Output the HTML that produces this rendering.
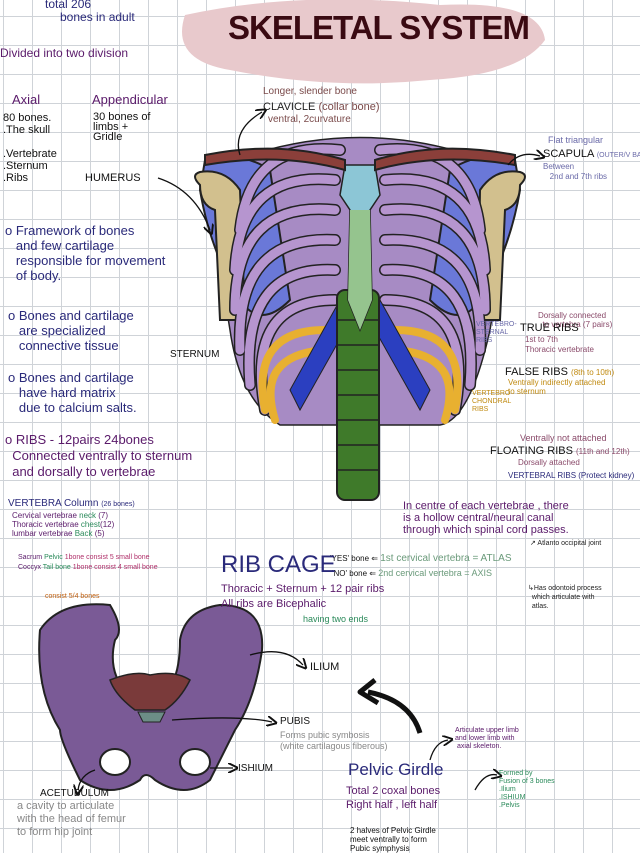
<!DOCTYPE html><html><head><style>
body{margin:0;width:640px;height:853px;overflow:hidden;position:relative;background:#fff;
background-image:linear-gradient(#cfd3d8 1px,transparent 1px),linear-gradient(90deg,#cfd3d8 1px,transparent 1px);
background-size:29px 29px;background-position:3px 16px;font-family:"Liberation Sans",sans-serif}
.t{position:absolute;white-space:nowrap;line-height:1.1}
svg{position:absolute;left:0;top:0}
</style></head><body>
<svg width="640" height="853" viewBox="0 0 640 853">
<defs><marker id="a" markerWidth="8" markerHeight="8" refX="4" refY="4" orient="auto"><path d="M0 0 L8 4 L0 8" fill="none" stroke="#111" stroke-width="1.5"/></marker></defs>
<path d="M185 15 Q300 -10 440 5 Q540 0 545 40 Q520 75 430 80 Q330 90 230 70 Q170 60 185 15Z" fill="#e8c9cc"/>
<path d="M250 155 Q360 120 470 155 Q505 250 490 330 Q470 420 440 425 L280 425 Q240 400 230 330 Q215 250 250 155Z" fill="#a78bc4" stroke="#222" stroke-width="1.5"/>
<path d="M205 160 Q240 150 270 170 L290 300 Q260 330 240 300 Q210 250 200 190Z" fill="#6a78d8" stroke="#222" stroke-width="2"/>
<path d="M515 160 Q480 150 450 170 L430 300 Q460 330 480 300 Q510 250 520 190Z" fill="#6a78d8" stroke="#222" stroke-width="2"/>
<path d="M200 185 Q190 175 200 172 Q225 168 240 190 L245 320 L220 320 L215 210 Q200 205 200 185Z" fill="#d2c08e" stroke="#222" stroke-width="2"/>
<path d="M520 185 Q530 175 520 172 Q495 168 480 190 L478 320 L500 320 L505 210 Q520 205 520 185Z" fill="#d2c08e" stroke="#222" stroke-width="2"/>
<g fill="none" stroke="#222" stroke-width="12" stroke-linecap="round">
<path d="M340 150 Q250 140 240 230"/><path d="M380 150 Q470 140 480 230"/>
<path d="M335 180 Q240 170 235 270"/><path d="M385 180 Q480 170 485 270"/>
<path d="M335 210 Q235 200 235 310"/><path d="M385 210 Q485 200 485 310"/>
<path d="M335 240 Q235 235 240 350"/><path d="M385 240 Q485 235 480 350"/>
<path d="M335 270 Q240 265 250 385"/><path d="M385 270 Q480 265 470 385"/>
<path d="M335 300 Q245 300 265 410"/><path d="M385 300 Q475 300 455 410"/>
</g>
<g fill="none" stroke="#b695cf" stroke-width="9" stroke-linecap="round">
<path d="M340 150 Q250 140 240 230"/><path d="M380 150 Q470 140 480 230"/>
<path d="M335 180 Q240 170 235 270"/><path d="M385 180 Q480 170 485 270"/>
<path d="M335 210 Q235 200 235 310"/><path d="M385 210 Q485 200 485 310"/>
<path d="M335 240 Q235 235 240 350"/><path d="M385 240 Q485 235 480 350"/>
<path d="M335 270 Q240 265 250 385"/><path d="M385 270 Q480 265 470 385"/>
<path d="M335 300 Q245 300 265 410"/><path d="M385 300 Q475 300 455 410"/>
</g>
<g fill="none" stroke="#e8b030" stroke-width="8" stroke-linecap="round">
<path d="M325 330 Q250 330 265 410"/><path d="M395 330 Q470 330 455 410"/>
<path d="M325 350 Q255 355 275 420"/><path d="M395 350 Q465 355 445 420"/>
</g>
<path d="M340 300 L290 390 L300 410 L345 330Z" fill="#2b3fc0" stroke="#222"/>
<path d="M380 300 L430 390 L420 410 L375 330Z" fill="#2b3fc0" stroke="#222"/>
<rect x="337" y="290" width="42" height="210" rx="8" fill="#3f7a2a" stroke="#222" stroke-width="2"/>
<g stroke="#222" stroke-width="1.5"><line x1="337" y1="320" x2="379" y2="320"/><line x1="337" y1="345" x2="379" y2="345"/><line x1="337" y1="370" x2="379" y2="370"/><line x1="337" y1="395" x2="379" y2="395"/><line x1="337" y1="420" x2="379" y2="420"/><line x1="337" y1="445" x2="379" y2="445"/><line x1="337" y1="470" x2="379" y2="470"/></g>
<path d="M345 165 L375 165 L380 195 L370 210 L372 300 L360 330 L348 300 L350 210 L340 195Z" fill="#8cc6d6" stroke="#222" stroke-width="1.5"/>
<path d="M350 210 L370 210 L372 300 L360 330 L348 300Z" fill="#95c48e"/>
<path d="M205 155 Q280 140 345 160 L345 170 Q280 152 205 165Z" fill="#8b3f3a" stroke="#222" stroke-width="2"/>
<path d="M515 155 Q440 140 375 160 L375 170 Q440 152 515 165Z" fill="#8b3f3a" stroke="#222" stroke-width="2"/>
<path d="M40 630 Q60 600 110 605 Q125 630 115 640 Q105 680 140 705 L150 700 Q180 695 180 640 Q185 610 220 605 Q265 605 262 650 Q255 700 235 730 Q220 760 210 780 Q185 800 155 780 Q145 770 140 780 Q110 800 80 780 Q60 740 60 730 Q35 690 40 630Z" fill="#7a5a96" stroke="#222" stroke-width="2"/>
<ellipse cx="115" cy="762" rx="15" ry="13" fill="#fff" stroke="#222" stroke-width="2"/>
<ellipse cx="195" cy="762" rx="15" ry="13" fill="#fff" stroke="#222" stroke-width="2"/>
<path d="M110 680 Q135 670 150 675 Q175 670 190 680 Q180 700 165 710 L135 710 Q115 695 110 680Z" fill="#7a3a3a" stroke="#222" stroke-width="1.5"/>
<path d="M138 712 L165 712 L160 722 L143 722Z" fill="#6c8d86" stroke="#222"/>
<path d="M420 733 Q410 700 368 692" fill="none" stroke="#111" stroke-width="5"/>
<path d="M375 680 L360 692 L378 703" fill="none" stroke="#111" stroke-width="5" stroke-linejoin="round"/>
<g fill="none" stroke="#111" stroke-width="1.3" marker-end="url(#a)">
<path d="M240 155 Q232 130 262 112"/>
<path d="M508 165 Q520 150 540 156"/>
<path d="M158 178 Q195 190 210 230"/>
<path d="M250 655 Q285 645 303 665"/>
<path d="M172 720 Q240 715 272 722"/>
<path d="M210 768 L233 768"/>
<path d="M95 770 Q80 775 78 790"/>
<path d="M430 760 Q435 742 448 740"/>
<path d="M475 790 Q485 772 497 775"/>
</g>
</svg>
<div class="t" style="left:228px;top:10px;font-size:33px;font-weight:bold;color:#3a0a12;letter-spacing:-1px">SKELETAL SYSTEM</div>
<div class="t" style="left:45px;top:-2px;font-size:12px;color:#2a2a7a">total 206</div>
<div class="t" style="left:60px;top:11px;font-size:12px;color:#2a2a7a">bones in adult</div>
<div class="t" style="left:0px;top:47px;font-size:12px;color:#5a1a6a">Divided into two division</div>
<div class="t" style="left:12px;top:93px;font-size:13px;color:#5a1a6a">Axial</div>
<div class="t" style="left:92px;top:93px;font-size:13px;color:#5a1a6a">Appendicular</div>
<div class="t" style="left:3px;top:112px;font-size:11px;line-height:12px;color:#111">80 bones.<br>.The skull<br><br>.Vertebrate<br>.Sternum<br>.Ribs</div>
<div class="t" style="left:93px;top:112px;font-size:11px;line-height:10px;color:#111">30 bones of<br>limbs +<br>Gridle</div>
<div class="t" style="left:85px;top:172px;font-size:11px;color:#111">HUMERUS</div>
<div class="t" style="left:263px;top:86px;font-size:10px;color:#7a4a4a">Longer, slender bone</div>
<div class="t" style="left:263px;top:101px;font-size:11px;color:#222">CLAVICLE <span style="color:#7a4a4a">(collar bone)</span></div>
<div class="t" style="left:268px;top:114px;font-size:10px;color:#7a4a4a">ventral, 2curvature</div>
<div class="t" style="left:548px;top:136px;font-size:9px;color:#6a6aa8">Flat triangular</div>
<div class="t" style="left:543px;top:148px;font-size:11px;color:#111">SCAPULA <span style="font-size:7px;color:#6a6aa8">(OUTER/V BACK)</span></div>
<div class="t" style="left:543px;top:162px;font-size:8px;line-height:10px;color:#6a6aa8">Between<br>&nbsp;&nbsp;&nbsp;2nd and 7th ribs</div>
<div class="t" style="left:5px;top:223px;font-size:13px;line-height:15px;color:#2a2a7a">o Framework of bones<br>&nbsp;&nbsp;&nbsp;and few cartilage<br>&nbsp;&nbsp;&nbsp;responsible for movement<br>&nbsp;&nbsp;&nbsp;of body.</div>
<div class="t" style="left:8px;top:308px;font-size:13px;line-height:15px;color:#2a2a7a">o Bones and cartilage<br>&nbsp;&nbsp;&nbsp;are specialized<br>&nbsp;&nbsp;&nbsp;connective tissue</div>
<div class="t" style="left:170px;top:349px;font-size:10px;color:#111">STERNUM</div>
<div class="t" style="left:8px;top:370px;font-size:13px;line-height:15px;color:#2a2a7a">o Bones and cartilage<br>&nbsp;&nbsp;&nbsp;have hard matrix<br>&nbsp;&nbsp;&nbsp;due to calcium salts.</div>
<div class="t" style="left:5px;top:432px;font-size:13px;line-height:16px;color:#5a1a6a">o RIBS - 12pairs 24bones<br>&nbsp;&nbsp;Connected ventrally to sternum<br>&nbsp;&nbsp;and dorsally to vertebrae</div>
<div class="t" style="left:538px;top:311px;font-size:8px;line-height:9px;color:#8a4a6a">Dorsally connected<br>&nbsp;&nbsp;to vertebra (7 pairs)</div>
<div class="t" style="left:476px;top:321px;font-size:7px;line-height:8px;color:#6a6aa8">VERTEBRO-<br>STERNAL<br>RIBS</div>
<div class="t" style="left:520px;top:322px;font-size:11px;color:#111">TRUE RIBS</div>
<div class="t" style="left:525px;top:335px;font-size:8px;line-height:10px;color:#8a4a6a">1st to 7th<br>Thoracic vertebrate</div>
<div class="t" style="left:505px;top:366px;font-size:11px;color:#111">FALSE RIBS <span style="font-size:8px;color:#c08a10">(8th to 10th)</span></div>
<div class="t" style="left:508px;top:378px;font-size:8px;line-height:9px;color:#c08a10">Ventrally indirectly attached<br>to sternum</div>
<div class="t" style="left:472px;top:390px;font-size:7px;line-height:8px;color:#c08a10">VERTEBRO<br>CHONDRAL<br>RIBS</div>
<div class="t" style="left:520px;top:434px;font-size:9px;color:#8a4a6a">Ventrally not attached</div>
<div class="t" style="left:490px;top:445px;font-size:11px;color:#111">FLOATING RIBS <span style="font-size:8px;color:#8a4a6a">(11th and 12th)</span></div>
<div class="t" style="left:518px;top:459px;font-size:8px;color:#8a4a6a">Dorsally attached</div>
<div class="t" style="left:508px;top:472px;font-size:8px;color:#2a2a7a">VERTEBRAL RIBS (Protect kidney)</div>
<div class="t" style="left:8px;top:498px;font-size:10px;color:#2a2a7a">VERTEBRA Column <span style="font-size:7px">(26 bones)</span></div>
<div class="t" style="left:12px;top:511px;font-size:8px;line-height:9px;color:#5a1a6a">Cervical vertebrae <span style="color:#2a8a5a">neck</span> (7)<br>Thoracic vertebrae <span style="color:#2a8a5a">chest</span>(12)<br>lumbar vertebrae <span style="color:#2a8a5a">Back</span> (5)</div>
<div class="t" style="left:18px;top:553px;font-size:7px;line-height:10px;color:#5a1a6a">Sacrum <span style="color:#2a8a5a">Pelvic</span> <span style="color:#b0306a">1bone consist 5 small bone</span><br>Coccyx <span style="color:#2a8a5a">Tail bone</span> <span style="color:#b0306a">1bone consist 4 small bone</span></div>
<div class="t" style="left:45px;top:593px;font-size:7px;color:#c06010">consist 5/4 bones</div>
<div class="t" style="left:403px;top:500px;font-size:11px;line-height:12px;color:#5a1a6a">In centre of each vertebrae , there<br>is a hollow central/neural canal<br>through which spinal cord passes.</div>
<div class="t" style="left:530px;top:540px;font-size:7px;color:#222">&#8599; Atlanto occipital joint</div>
<div class="t" style="left:330px;top:553px;font-size:8px;color:#111">'YES' bone &#8656; <span style="font-size:10px;color:#6a9a7a">1st cervical vertebra = ATLAS</span></div>
<div class="t" style="left:332px;top:569px;font-size:8px;color:#111">'NO' bone &#8656; <span style="font-size:9px;color:#6a9a7a">2nd cervical vertebra = AXIS</span></div>
<div class="t" style="left:528px;top:584px;font-size:7px;line-height:9px;color:#222">&#8627;Has odontoid process<br>&nbsp;&nbsp;which articulate with<br>&nbsp;&nbsp;atlas.</div>
<div class="t" style="left:221px;top:552px;font-size:24px;color:#2a2a7a">RIB CAGE</div>
<div class="t" style="left:221px;top:582px;font-size:11px;line-height:15px;color:#5a1a6a">Thoracic + Sternum + 12 pair ribs<br>All ribs are Bicephalic</div>
<div class="t" style="left:303px;top:615px;font-size:9px;color:#2a8a5a">having two ends</div>
<div class="t" style="left:310px;top:661px;font-size:11px;color:#111">ILIUM</div>
<div class="t" style="left:280px;top:716px;font-size:10px;color:#111">PUBIS</div>
<div class="t" style="left:280px;top:730px;font-size:9px;line-height:11px;color:#888">Forms pubic symbosis<br>(white cartilagous fiberous)</div>
<div class="t" style="left:455px;top:727px;font-size:7px;line-height:8px;color:#5a1a6a">Articulate upper limb<br>and lower limb with<br>&nbsp;axial skeleton.</div>
<div class="t" style="left:238px;top:763px;font-size:10px;color:#111">ISHIUM</div>
<div class="t" style="left:348px;top:761px;font-size:17px;color:#2a2a7a">Pelvic Girdle</div>
<div class="t" style="left:346px;top:784px;font-size:11px;line-height:14px;color:#5a1a6a">Total 2 coxal bones<br>Right half , left half</div>
<div class="t" style="left:499px;top:770px;font-size:7px;line-height:8px;color:#2a8a5a">Formed by<br>Fusion of 3 bones<br>.Ilium<br>.ISHIUM<br>.Pelvis</div>
<div class="t" style="left:40px;top:788px;font-size:10px;color:#111">ACETUBULUM</div>
<div class="t" style="left:17px;top:800px;font-size:11px;line-height:13px;color:#888">a cavity to articulate<br>with the head of femur<br>to form hip joint</div>
<div class="t" style="left:350px;top:826px;font-size:8px;line-height:9px;color:#111">2 halves of Pelvic Girdle<br>meet ventrally to form<br>Pubic symphysis</div>
</body></html>
